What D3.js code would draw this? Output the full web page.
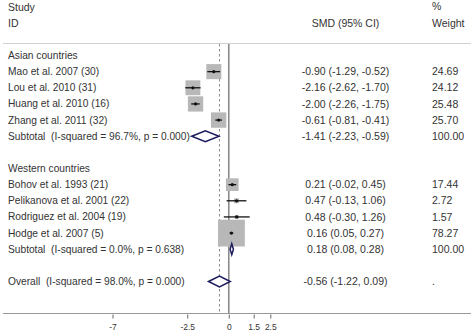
<!DOCTYPE html>
<html><head><meta charset="utf-8">
<script src="https://cdn.jsdelivr.net/npm/d3@7"></script>
<style>body{margin:0;background:#fff}svg{display:block}text{font-family:"Liberation Sans",Arial,sans-serif;fill:#333;white-space:pre}</style>
</head><body><div id="chart"></div>
<script>
// ---- data ----
const labels = ["Asian countries","Mao et al. 2007 (30)","Lou et al. 2010 (31)","Huang et al. 2010 (16)","Zhang et al. 2011 (32)","Subtotal  (I-squared = 96.7%, p = 0.000)","","Western countries","Bohov et al. 1993 (21)","Pelikanova et al. 2001 (22)","Rodriguez et al. 2004 (19)","Hodge et al. 2007 (5)","Subtotal  (I-squared = 0.0%, p = 0.638)","","Overall  (I-squared = 98.0%, p = 0.000)"];
const rowType = ["head","study","study","study","study","sub","blank","head","study","study","study","study","sub","blank","sub"];
const smd   = [null,-0.90,-2.16,-2.00,-0.61,-1.41,null,null,0.21,0.47,0.48,0.16,0.18,null,-0.56];
const lower = [null,-1.29,-2.62,-2.26,-0.81,-2.23,null,null,-0.02,-0.13,-0.30,0.05,0.08,null,-1.22];
const upper = [null,-0.52,-1.70,-1.75,-0.41,-0.59,null,null,0.45,1.06,1.26,0.27,0.28,null,0.09];
const ciText = ["","-0.90 (-1.29, -0.52)","-2.16 (-2.62, -1.70)","-2.00 (-2.26, -1.75)","-0.61 (-0.81, -0.41)","-1.41 (-2.23, -0.59)","","","0.21 (-0.02, 0.45)","0.47 (-0.13, 1.06)","0.48 (-0.30, 1.26)","0.16 (0.05, 0.27)","0.18 (0.08, 0.28)","","-0.56 (-1.22, 0.09)"];
const weight = [null,24.69,24.12,25.48,25.70,100.00,null,null,17.44,2.72,1.57,78.27,100.00,null,null];
const weightText = ["","24.69","24.12","25.48","25.70","100.00","","","17.44","2.72","1.57","78.27","100.00","","."];
const tickValues = [-7,-2.5,0,1.5,2.5];
const tickLabels = ["-7","-2.5","0","1.5","2.5"];
const overallSMD = -0.56;

const W=474,H=333;
const svg=d3.select("#chart").append("svg").attr("width",W).attr("height",H);
const x=d3.scaleLinear().domain([-7,2.5]).range([112.5,270.3]);
const y=d3.scaleLinear().domain([0,14]).range([55.5,281.5]);
const fs=10.5, fsl=10.2;

// headers
svg.append("text").attr("x",8).attr("y",7).attr("dy","0.35em").attr("font-size",fs).text("Study");
svg.append("text").attr("x",8).attr("y",23).attr("dy","0.35em").attr("font-size",fs).text("ID");
svg.append("text").attr("x",345.5).attr("y",23).attr("dy","0.35em").attr("font-size",fs).attr("text-anchor","middle").text("SMD (95% CI)");
svg.append("text").attr("x",432).attr("y",6).attr("dy","0.35em").attr("font-size",fs).text("%");
svg.append("text").attr("x",432).attr("y",23).attr("dy","0.35em").attr("font-size",fs).text("Weight");
svg.append("line").attr("x1",3).attr("x2",471).attr("y1",43.5).attr("y2",43.5).attr("stroke","#d0d0d0").attr("stroke-width",1);

// zero line and overall dotted line
svg.append("line").attr("x1",x(0)).attr("x2",x(0)).attr("y1",44).attr("y2",313).attr("stroke","#8a8a8a").attr("stroke-width",1.6);
svg.append("line").attr("x1",x(overallSMD)).attr("x2",x(overallSMD)).attr("y1",44).attr("y2",313).attr("stroke","#8a8a8a").attr("stroke-width",1).attr("stroke-dasharray","2.5,2.5");

const rows=labels.map((l,i)=>({i,l,t:rowType[i],smd:smd[i],lo:lower[i],hi:upper[i],ci:ciText[i],w:weight[i],wt:weightText[i]}));

// text columns
svg.selectAll("text.lab").data(rows).enter().append("text").attr("class","lab")
 .attr("x",8).attr("y",d=>y(d.i)).attr("dy","0.35em").attr("font-size",fsl).attr("xml:space","preserve").text(d=>d.l);
svg.selectAll("text.ci").data(rows).enter().append("text").attr("class","ci")
 .attr("x",345.5).attr("y",d=>y(d.i)).attr("dy","0.35em").attr("font-size",fs).attr("text-anchor","middle").text(d=>d.ci);
svg.selectAll("text.wt").data(rows).enter().append("text").attr("class","wt")
 .attr("x",432).attr("y",d=>y(d.i)).attr("dy","0.35em").attr("font-size",fs).text(d=>d.wt);

const studies=rows.filter(d=>d.t==="study");
const side=w=>3.03*Math.sqrt(w);
svg.selectAll("rect.box").data(studies).enter().append("rect")
 .attr("x",d=>x(d.smd)-side(d.w)/2).attr("y",d=>y(d.i)-side(d.w)/2)
 .attr("width",d=>side(d.w)).attr("height",d=>side(d.w)).attr("fill","#b8b8b8");
svg.selectAll("line.ci").data(studies).enter().append("line")
 .attr("x1",d=>x(d.lo)).attr("x2",d=>x(d.hi)).attr("y1",d=>y(d.i)).attr("y2",d=>y(d.i))
 .attr("stroke","#111").attr("stroke-width",1.3);
svg.selectAll("circle.pt").data(studies).enter().append("circle")
 .attr("cx",d=>x(d.smd)).attr("cy",d=>y(d.i)).attr("r",1.6).attr("fill","#111");

const subs=rows.filter(d=>d.t==="sub");
svg.selectAll("path.dia").data(subs).enter().append("path")
 .attr("d",d=>{const cy=y(d.i),h=5.5;return `M${x(d.lo)},${cy}L${x(d.smd)},${cy-h}L${x(d.hi)},${cy}L${x(d.smd)},${cy+h}Z`;})
 .attr("fill","#fff").attr("stroke","#1c1c5e").attr("stroke-width",1.5);

// axis
const axis=d3.axisBottom(x).tickValues(tickValues).tickFormat((d,i)=>tickLabels[i]).tickSizeOuter(0).tickSize(4).tickPadding(6);
const g=svg.append("g").attr("transform","translate(0,313.5)").call(axis);
g.select(".domain").remove();
g.append("line").attr("x1",3).attr("x2",471).attr("stroke","#999").attr("stroke-width",1);
g.selectAll(".tick line").attr("stroke","#666").attr("y1",1).attr("y2",5);
g.selectAll(".tick text").attr("font-size",8.5).attr("fill","#333").style("font-family","Liberation Sans, Arial, sans-serif");
</script></body></html>
